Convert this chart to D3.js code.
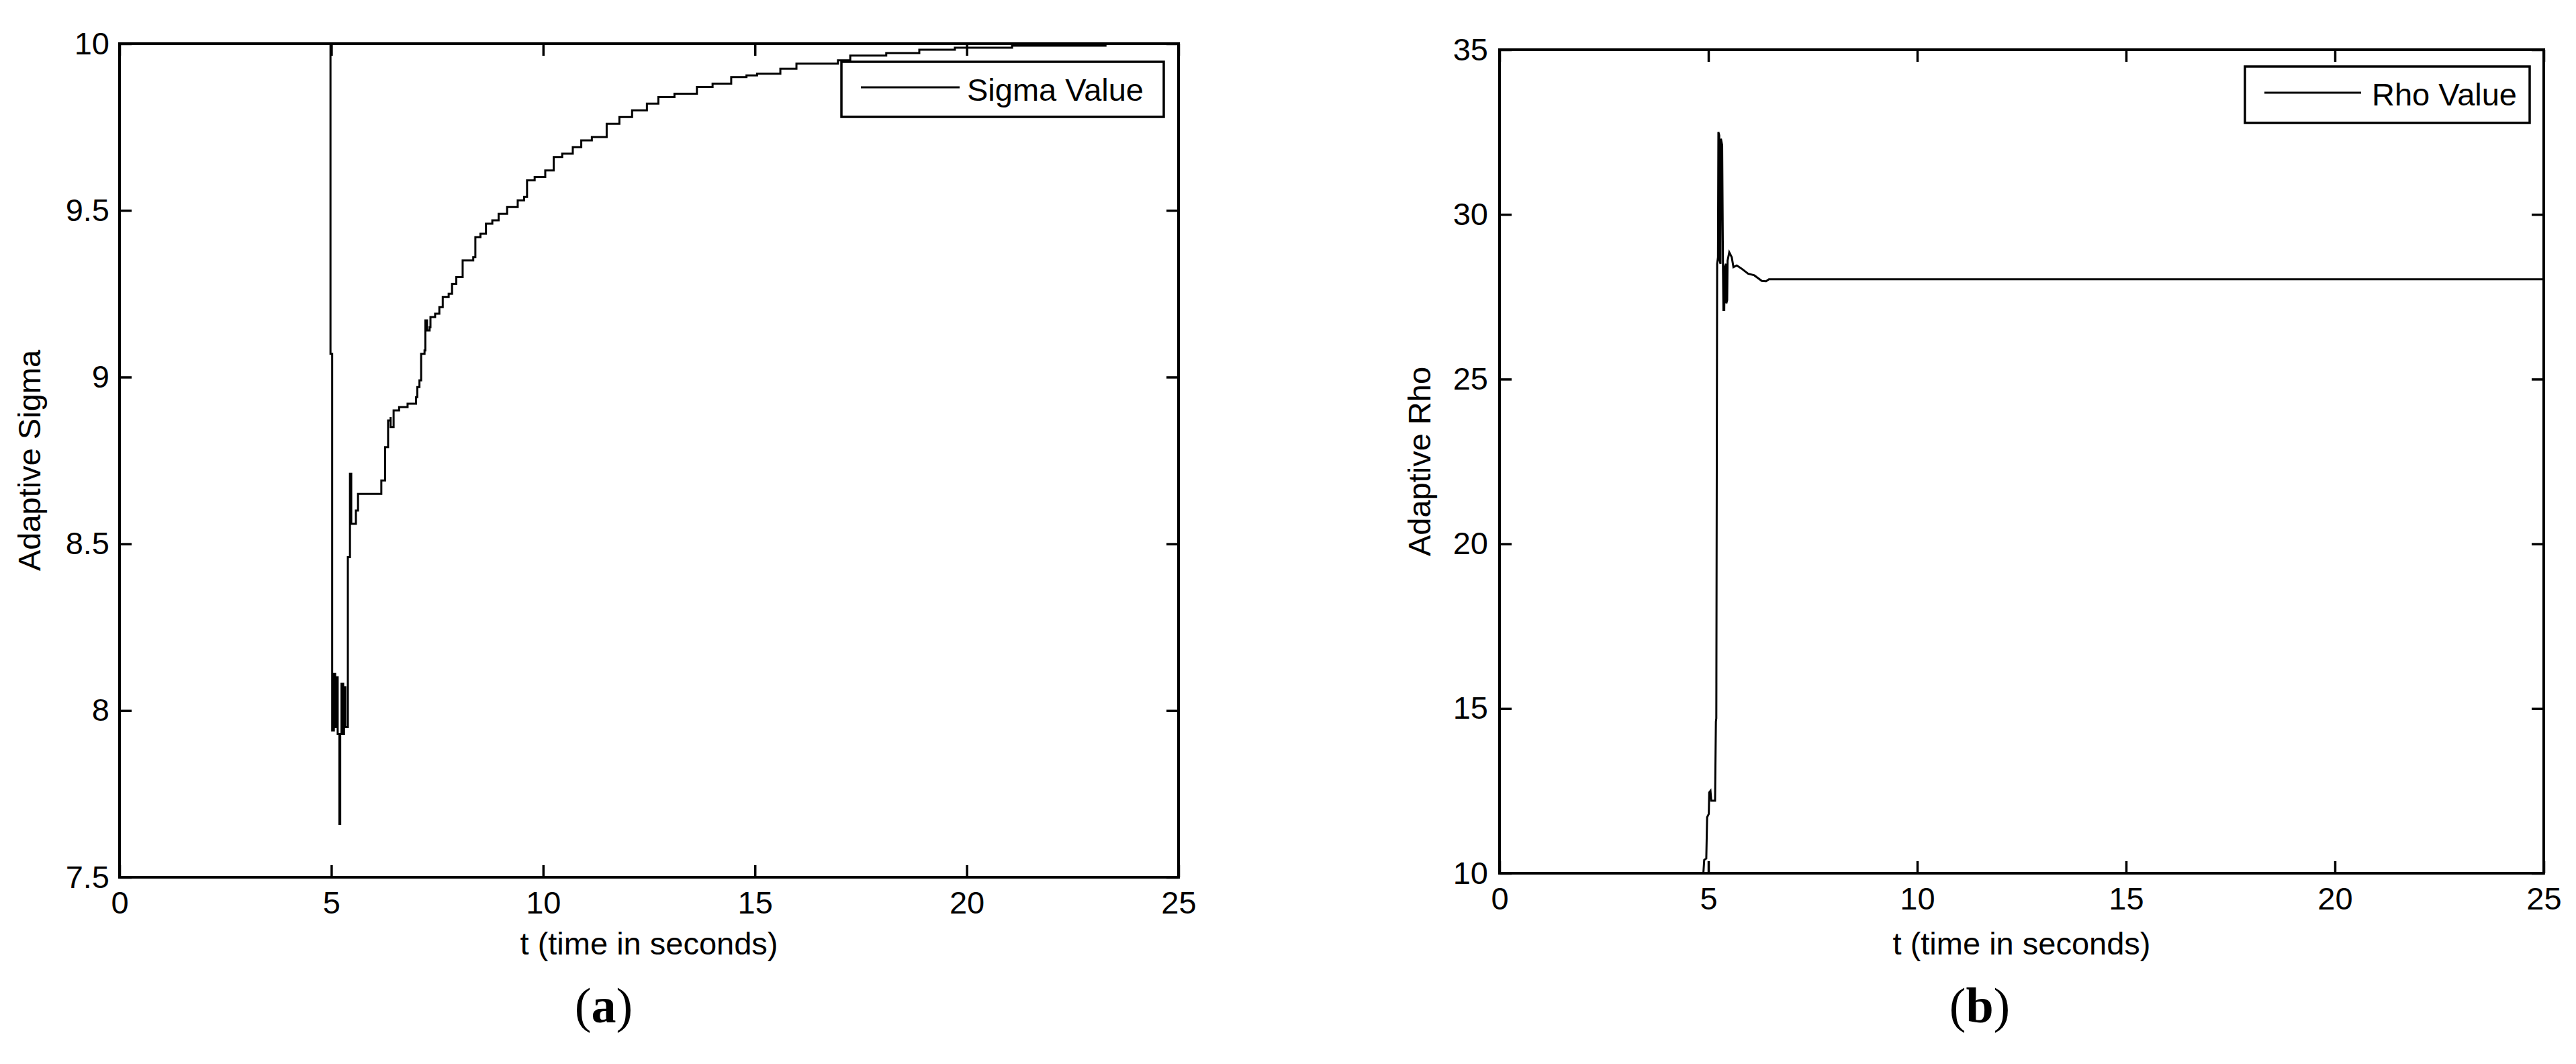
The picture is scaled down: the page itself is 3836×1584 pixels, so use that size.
<!DOCTYPE html>
<html><head><meta charset="utf-8">
<script src="https://cdn.jsdelivr.net/npm/d3@7"></script>
<style>body{margin:0;background:#fff}svg{display:block;background:#fff}</style>
</head><body>
<svg id="c" width="3836" height="1584"></svg>
<script>
// ---------- data ----------
const xTicks = [0, 5, 10, 15, 20, 25];
const sigmaTicks = [7.5, 8, 8.5, 9, 9.5, 10];
const rhoTicks = [10, 15, 20, 25, 30, 35];

const sigmaT = [0, 4.98, 4.98, 5.02, 5.02, 5.06, 5.06, 5.09, 5.09, 5.13, 5.13, 5.15, 5.15, 5.19, 5.19, 5.21, 5.21, 5.24, 5.24, 5.28, 5.28, 5.30, 5.30, 5.33, 5.33, 5.39, 5.39, 5.44, 5.44, 5.47, 5.47, 5.58, 5.58, 5.63, 5.63, 6.10, 6.18, 6.18, 6.27, 6.27, 6.34, 6.34, 6.40, 6.40, 6.47, 6.47, 6.60, 6.80, 7.00, 7.03, 7.08, 7.12, 7.20, 7.22, 7.26, 7.32, 7.34, 7.45, 7.55, 7.63, 7.77, 7.85, 7.95, 8.05, 8.10, 8.35, 8.40, 8.52, 8.65, 8.80, 8.95, 9.15, 9.40, 9.55, 9.62, 9.80, 10.05, 10.25, 10.45, 10.70, 10.90, 11.15, 11.50, 11.80, 12.10, 12.45, 12.72, 13.10, 13.63, 14.00, 14.44, 14.80, 15.05, 15.60, 15.98, 16.47, 16.96, 17.25, 18.10, 18.88, 19.72, 21.07, 23.30];
const sigmaV = [10, 10, 9.07, 9.02, 7.94, 7.94, 8.11, 8.11, 7.95, 7.95, 8.10, 8.10, 7.93, 7.93, 7.66, 7.66, 7.93, 7.93, 8.08, 8.08, 7.93, 7.93, 8.07, 8.07, 7.95, 7.95, 8.46, 8.47, 8.71, 8.71, 8.56, 8.57, 8.60, 8.61, 8.65, 8.65, 8.67, 8.69, 8.70, 8.79, 8.80, 8.87, 8.88, 8.85, 8.85, 8.90, 8.91, 8.92, 8.94, 8.97, 8.99, 9.07, 9.08, 9.17, 9.14, 9.15, 9.18, 9.19, 9.21, 9.24, 9.25, 9.28, 9.30, 9.30, 9.35, 9.36, 9.42, 9.43, 9.46, 9.47, 9.49, 9.51, 9.53, 9.54, 9.59, 9.60, 9.62, 9.66, 9.67, 9.69, 9.71, 9.72, 9.76, 9.78, 9.80, 9.82, 9.84, 9.85, 9.87, 9.88, 9.90, 9.905, 9.91, 9.925, 9.94, 9.94, 9.95, 9.964, 9.972, 9.982, 9.988, 9.994, 9.994];

const rhoT = [0, 4.88, 4.90, 4.95, 4.97, 5.01, 5.02, 5.05, 5.07, 5.16, 5.18, 5.19, 5.21, 5.23, 5.24, 5.26, 5.27, 5.29, 5.30, 5.33, 5.35, 5.36, 5.38, 5.39, 5.42, 5.43, 5.45, 5.46, 5.50, 5.56, 5.60, 5.68, 5.80, 5.95, 6.10, 6.28, 6.38, 6.45, 25];
const rhoV = [10, 10, 10.4, 10.45, 11.7, 11.8, 12.45, 12.5, 12.2, 12.2, 14.6, 14.7, 28.5, 28.7, 32.5, 32.4, 28.6, 28.5, 32.3, 32.1, 28.3, 27.1, 27.1, 28.4, 28.5, 27.3, 27.4, 28.6, 28.85, 28.7, 28.4, 28.45, 28.35, 28.2, 28.15, 27.98, 27.97, 28.03, 28.03];

// ---------- drawing ----------
const svg = d3.select("#c");
svg.append("rect").attr("width", 3836).attr("height", 1584).attr("fill", "#fff");
const SANS = "'Liberation Sans', Arial, Helvetica, sans-serif";
const SERIF = "'Liberation Serif', 'Times New Roman', serif";
const FS = 47;

function panel(cfg) {
  const x = d3.scaleLinear().domain([0, 25]).range([cfg.left, cfg.right]);
  const y = d3.scaleLinear().domain(cfg.yDomain).range([cfg.bottom, cfg.top]);
  const g = svg.append("g");
  const TK = 18;

  const styleAxis = sel => {
    sel.select(".domain").remove();
    sel.selectAll(".tick line").attr("stroke", "#000").attr("stroke-width", 3.5);
    sel.selectAll(".tick text").attr("font-family", SANS).attr("font-size", FS).attr("fill", "#000");
  };

  g.append("g").attr("transform", `translate(0,${cfg.bottom})`)
    .call(d3.axisBottom(x).tickValues(xTicks).tickSizeInner(-TK).tickSizeOuter(0).tickPadding(21).tickFormat(d => String(d)))
    .call(styleAxis);
  g.append("g").attr("transform", `translate(0,${cfg.top})`)
    .call(d3.axisTop(x).tickValues(xTicks).tickSizeInner(-TK).tickSizeOuter(0).tickFormat(""))
    .call(styleAxis);
  g.append("g").attr("transform", `translate(${cfg.left},0)`)
    .call(d3.axisLeft(y).tickValues(cfg.yTicks).tickSizeInner(-TK).tickSizeOuter(0).tickPadding(cfg.ypad).tickFormat(d => String(d)))
    .call(styleAxis);
  g.append("g").attr("transform", `translate(${cfg.right},0)`)
    .call(d3.axisRight(y).tickValues(cfg.yTicks).tickSizeInner(-TK).tickSizeOuter(0).tickFormat(""))
    .call(styleAxis);

  const pts = cfg.T.map((t, i) => [t, cfg.V[i]]);
  g.append("path").datum(pts)
    .attr("d", d3.line().x(d => x(d[0])).y(d => y(d[1])).curve(cfg.curve))
    .attr("fill", "none").attr("stroke", "#000").attr("stroke-width", 3)
    .attr("stroke-linejoin", "miter");

  g.append("rect").attr("x", cfg.left).attr("y", cfg.top)
    .attr("width", cfg.right - cfg.left).attr("height", cfg.bottom - cfg.top)
    .attr("fill", "none").attr("stroke", "#000").attr("stroke-width", 4);

  // legend
  const L = cfg.legend;
  g.append("rect").attr("x", L.x0).attr("y", L.y0).attr("width", L.x1 - L.x0).attr("height", L.y1 - L.y0)
    .attr("fill", "#fff").attr("stroke", "#000").attr("stroke-width", 3.5);
  g.append("line").attr("x1", L.lx0).attr("x2", L.lx1).attr("y1", L.ly).attr("y2", L.ly)
    .attr("stroke", "#000").attr("stroke-width", 3);
  g.append("text").attr("x", L.tx).attr("y", L.ty).text(cfg.name)
    .attr("font-family", SANS).attr("font-size", FS).attr("fill", "#000");

  // axis titles
  g.append("text").attr("x", (cfg.left + cfg.right) / 2).attr("y", 1421)
    .attr("text-anchor", "middle").attr("font-family", SANS).attr("font-size", FS)
    .text("t (time in seconds)");
  g.append("text").attr("transform", `translate(${cfg.ytx},${(cfg.top + cfg.bottom) / 2}) rotate(-90)`)
    .attr("text-anchor", "middle").attr("font-family", SANS).attr("font-size", FS)
    .text(cfg.ytitle);
  g.append("text").attr("x", cfg.labx).attr("y", 1522).attr("text-anchor", "middle")
    .attr("font-family", SERIF).attr("font-size", 74)
    .html(`(<tspan font-weight="bold">${cfg.lab}</tspan>)`);
}

panel({
  left: 178, right: 1755, top: 65, bottom: 1306, yDomain: [7.5, 10], yTicks: sigmaTicks, ypad: 15,
  T: sigmaT, V: sigmaV, curve: d3.curveStepAfter, name: "Sigma Value",
  legend: { x0: 1253, x1: 1733, y0: 92, y1: 174, lx0: 1282, lx1: 1429, ly: 130, tx: 1440, ty: 150 },
  ytitle: "Adaptive Sigma", ytx: 60, labx: 899, lab: "a"
});
panel({
  left: 2233, right: 3788, top: 74, bottom: 1300, yDomain: [10, 35], yTicks: rhoTicks, ypad: 17,
  T: rhoT, V: rhoV, curve: d3.curveLinear, name: "Rho Value",
  legend: { x0: 3343, x1: 3767, y0: 99, y1: 183, lx0: 3372, lx1: 3516, ly: 138, tx: 3532, ty: 157 },
  ytitle: "Adaptive Rho", ytx: 2130, labx: 2948, lab: "b"
});
</script>
</body></html>
